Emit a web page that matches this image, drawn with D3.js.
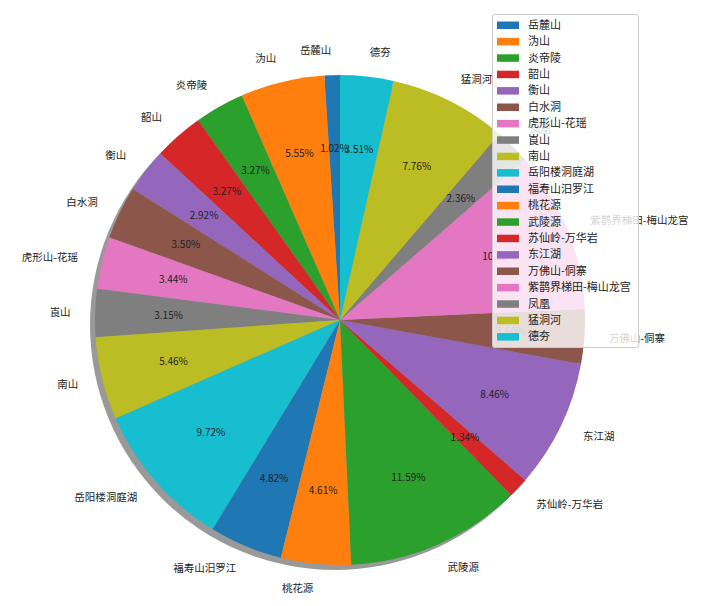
<!DOCTYPE html><html><head><meta charset="utf-8"><script src="https://cdn.jsdelivr.net/npm/d3@7"></script>
<style>body{margin:0;background:#fff}</style></head><body><svg id="c" width="721" height="606"></svg>
<script>
const names=["岳麓山","沩山","炎帝陵","韶山","衡山","白水洞","虎形山-花瑶","崀山","南山","岳阳楼洞庭湖","福寿山汨罗江","桃花源","武陵源","苏仙岭-万华岩","东江湖","万佛山-侗寨","紫鹊界梯田-梅山龙宫","凤凰","猛洞河","德夯"];
const values=[1.02,5.55,3.27,3.27,2.92,3.50,3.44,3.15,5.46,9.72,4.82,4.61,11.59,1.34,8.46,3.60,10.65,2.36,7.76,3.51];
const colors=["#1f77b4","#ff7f0e","#2ca02c","#d62728","#9467bd","#8c564b","#e377c2","#7f7f7f","#bcbd22","#17becf"];
const svg=d3.select("#c"),cx=340,cy=320,r=245,F="'Noto Sans CJK SC',sans-serif";
const total=d3.sum(values);
const pie=d3.pie().sort(null).startAngle(0).endAngle(-2*Math.PI)(values);
const arc=d3.arc().innerRadius(0).outerRadius(r);
const g=svg.append("g").attr("transform",`translate(${cx},${cy})`);
g.append("circle").attr("cx",-5).attr("cy",5).attr("r",r).attr("fill","#000").attr("opacity",0.4);
g.selectAll("path.s").data(pie).join("path").attr("d",arc).attr("fill",(d,i)=>colors[i%10]);
pie.forEach((d,i)=>{
  const a=(d.startAngle+d.endAngle)/2;
  const sx=Math.sin(a),sy=-Math.cos(a);
  g.append("text").attr("x",sx*r*1.1).attr("y",sy*r*1.1).attr("dy","0.35em")
   .attr("text-anchor",sx>0?"start":"end").attr("font-family",F).attr("font-size",10.5).attr("fill","#222").text(names[i]);
  g.append("text").attr("x",sx*r*0.7).attr("y",sy*r*0.7).attr("dy","0.35em")
   .attr("text-anchor","middle").attr("font-family",F).attr("font-size",10).attr("fill","#222").text(d3.format(".2f")(d.data/total*100)+"%");
});
const L=svg.append("g");
L.append("rect").attr("x",492.5).attr("y",14.5).attr("width",146).attr("height",333).attr("rx",2)
 .attr("fill","#fff").attr("fill-opacity",0.8).attr("stroke","#ccc");
names.forEach((n,i)=>{
  const y=25+i*16.4;
  L.append("rect").attr("x",497).attr("y",y-3.5).attr("width",22).attr("height",7.5).attr("fill",colors[i%10]);
  L.append("text").attr("x",528).attr("y",y).attr("dy","0.35em").attr("font-family",F).attr("font-size",11).attr("fill","#222").text(n);
});
</script></body></html>
